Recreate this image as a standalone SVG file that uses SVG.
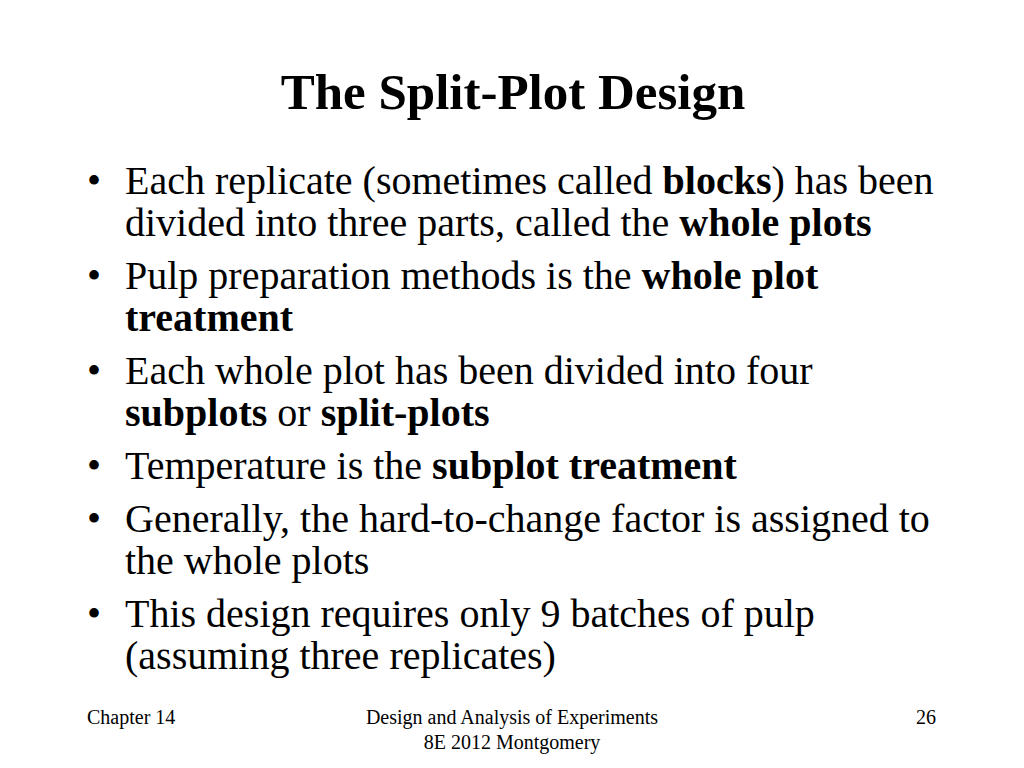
<svg xmlns="http://www.w3.org/2000/svg" width="1024" height="768" viewBox="0 0 1024 768">
<style>
.t{font-family:"Liberation Serif","Times New Roman",serif;fill:#000}
.title{font-size:51px;font-weight:bold}
.b{font-size:40px}
.bold{font-weight:bold}
.f{font-size:20px}
</style>
<rect width="1024" height="768" fill="#fff"/>
<text id="title" class="t title" x="513" y="109" text-anchor="middle">The Split-Plot Design</text>
<g id="bullets" class="t b">
<text x="87" y="194">•</text>
<text x="125" y="194">Each replicate (sometimes called <tspan class="bold">blocks</tspan>) has been</text>
<text x="125" y="236">divided into three parts, called the <tspan class="bold">whole plots</tspan></text>
<text x="87" y="289">•</text>
<text x="125" y="289">Pulp preparation methods is the <tspan class="bold">whole plot</tspan></text>
<text x="125" y="331" class="bold">treatment</text>
<text x="87" y="384">•</text>
<text x="125" y="384">Each whole plot has been divided into four</text>
<text x="125" y="426"><tspan class="bold">subplots</tspan> or <tspan class="bold">split-plots</tspan></text>
<text x="87" y="479">•</text>
<text x="125" y="479">Temperature is the <tspan class="bold">subplot treatment</tspan></text>
<text x="87" y="532">•</text>
<text x="125" y="532">Generally, the hard-to-change factor is assigned to</text>
<text x="125" y="574">the whole plots</text>
<text x="87" y="627">•</text>
<text x="125" y="627">This design requires only 9 batches of pulp</text>
<text x="125" y="669">(assuming three replicates)</text>
</g>
<g id="footer" class="t f">
<text x="87" y="724">Chapter 14</text>
<text x="512" y="724" text-anchor="middle">Design and Analysis of Experiments</text>
<text x="512" y="749" text-anchor="middle">8E 2012 Montgomery</text>
<text x="936" y="724" text-anchor="end">26</text>
</g>
</svg>
